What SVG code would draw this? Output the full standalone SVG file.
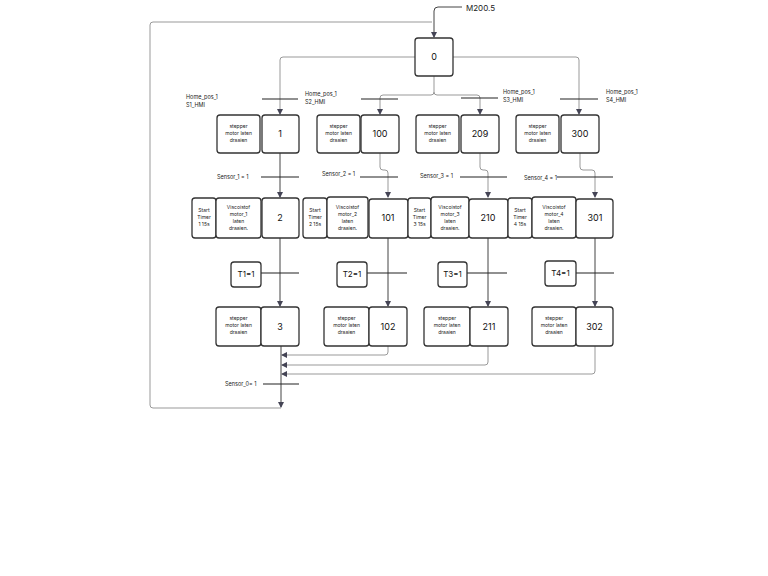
<svg xmlns="http://www.w3.org/2000/svg" width="768" height="576" viewBox="0 0 768 576">
<style>
.b{fill:#fff;stroke:#333;stroke-width:1.3}
.c{fill:none;stroke:#999;stroke-width:1}
.k{fill:none;stroke:#444;stroke-width:1}
.bar{stroke:#222;stroke-width:1.2}
.n{font-family:Inter,"Liberation Sans",sans-serif;font-size:9px;fill:#111;text-anchor:middle}
.s{font-family:Inter,"Liberation Sans",sans-serif;font-size:5px;fill:#222;text-anchor:middle}
.l{font-family:Inter,"Liberation Sans",sans-serif;font-size:5.5px;fill:#222}
</style>
<defs><marker id="a" markerWidth="6" markerHeight="6" refX="5" refY="3" orient="auto"><path d="M0,0L6,3L0,6z" fill="#445"/></marker></defs>
<rect width="768" height="576" fill="#fff"/>
<g id="connectors">
<path class="k" d="M462,7H438Q434,7 434,11V37" marker-end="url(#a)"/>
<path class="c" d="M432,22H153Q150,22 150,25V405Q150,408 153,408H281"/>
<path class="c" d="M415,57H283Q280,57 280,60V114" marker-end="url(#a)"/>
<path class="c" d="M453,57H576Q579,57 579,60V114" marker-end="url(#a)"/>
<path class="c" d="M434,76V92Q434,95 431,95H383Q380,95 380,98V114" marker-end="url(#a)"/>
<path class="c" d="M434,92Q434,95 437,95H477Q480,95 480,98V114" marker-end="url(#a)"/>
<path class="k" d="M280,153V197" marker-end="url(#a)"/>
<path class="c" d="M380,153V167Q380,170 383,170H385Q388,170 388,173V197" marker-end="url(#a)"/>
<path class="c" d="M480,153V167Q480,170 483,170H485Q488,170 488,173V197" marker-end="url(#a)"/>
<path class="c" d="M580,153V167Q580,170 583,170H592Q595,170 595,173V197" marker-end="url(#a)"/>
<path class="k" d="M280,238V306" marker-end="url(#a)"/>
<path class="k" d="M388,238V306" marker-end="url(#a)"/>
<path class="k" d="M488,238V306" marker-end="url(#a)"/>
<path class="k" d="M595,238V306" marker-end="url(#a)"/>
<path class="c" d="M388,346V352Q388,355 385,355H282" marker-end="url(#a)"/>
<path class="c" d="M488,346V362Q488,365 485,365H282" marker-end="url(#a)"/>
<path class="c" d="M595,346V371Q595,374 592,374H282" marker-end="url(#a)"/>
<path class="k" d="M281,346V407" marker-end="url(#a)"/>
<line class="bar" x1="262" y1="99" x2="298" y2="99"/>
<line class="bar" x1="361" y1="99" x2="398" y2="99"/>
<line class="bar" x1="461" y1="98" x2="498" y2="98"/>
<line class="bar" x1="560" y1="99" x2="598" y2="99"/>
<line class="bar" x1="261" y1="177" x2="299" y2="177"/>
<line class="bar" x1="360" y1="177" x2="398" y2="177"/>
<line class="bar" x1="460" y1="177" x2="507" y2="177"/>
<line class="bar" x1="557" y1="177" x2="613" y2="177"/>
<line class="bar" x1="261" y1="273" x2="299" y2="273"/>
<line class="bar" x1="367" y1="273" x2="407" y2="273"/>
<line class="bar" x1="467" y1="273" x2="507" y2="273"/>
<line class="bar" x1="576" y1="273" x2="614" y2="273"/>
<line class="bar" x1="263" y1="384" x2="299" y2="384"/>
</g>
<text class="l" x="466" y="11" style="font-size:8px">M200.5</text>
<text class="l" x="186" y="99">Home_pos_1</text><text class="l" x="186" y="107">S1_HMI</text>
<text class="l" x="305" y="96">Home_pos_1</text><text class="l" x="305" y="104">S2_HMI</text>
<text class="l" x="503" y="94">Home_pos_1</text><text class="l" x="503" y="102">S3_HMI</text>
<text class="l" x="606" y="94">Home_pos_1</text><text class="l" x="606" y="102">S4_HMI</text>
<text class="l" x="217" y="179">Sensor_1 = 1</text>
<text class="l" x="322" y="176">Sensor_2 = 1</text>
<text class="l" x="420" y="178">Sensor_3 = 1</text>
<text class="l" x="524" y="180">Sensor_4 = 1</text>
<text class="l" x="225" y="386">Sensor_0= 1</text>
<g id="n0"><rect class="b" x="415" y="38" width="38" height="38" rx="3"/><text class="n" x="434" y="60">0</text></g>
<g id="r1">
<g id="s1"><rect class="b" x="217" y="115" width="43" height="38" rx="3"/><text class="s" x="238.5" y="128">stepper</text><text class="s" x="238.5" y="135">motor laten</text><text class="s" x="238.5" y="142">draaien</text><rect class="b" x="262" y="115" width="37" height="38" rx="3"/><text class="n" x="280" y="137">1</text></g>
<g id="s100"><rect class="b" x="317" y="115" width="43" height="38" rx="3"/><text class="s" x="338.5" y="128">stepper</text><text class="s" x="338.5" y="135">motor laten</text><text class="s" x="338.5" y="142">draaien</text><rect class="b" x="361" y="115" width="38" height="38" rx="3"/><text class="n" x="380" y="137">100</text></g>
<g id="s209"><rect class="b" x="416" y="115" width="43" height="38" rx="3"/><text class="s" x="437.5" y="128">stepper</text><text class="s" x="437.5" y="135">motor laten</text><text class="s" x="437.5" y="142">draaien</text><rect class="b" x="461" y="115" width="38" height="38" rx="3"/><text class="n" x="480" y="137">209</text></g>
<g id="s300"><rect class="b" x="516" y="115" width="43" height="38" rx="3"/><text class="s" x="537.5" y="128">stepper</text><text class="s" x="537.5" y="135">motor laten</text><text class="s" x="537.5" y="142">draaien</text><rect class="b" x="561" y="115" width="38" height="38" rx="3"/><text class="n" x="580" y="137">300</text></g>
</g>
<g id="r2">
<g id="s2"><rect class="b" x="192" y="198" width="24" height="40" rx="3"/><text class="s" x="204" y="212">Start</text><text class="s" x="204" y="219">Timer</text><text class="s" x="204" y="226">1 15s</text><rect class="b" x="216" y="198" width="45" height="40" rx="3"/><text class="s" x="238.5" y="209">Viscoistof</text><text class="s" x="238.5" y="216">motor_1</text><text class="s" x="238.5" y="223">laten</text><text class="s" x="238.5" y="230">draaien.</text><rect class="b" x="262" y="198" width="37" height="40" rx="3"/><text class="n" x="280" y="221">2</text></g>
<g id="s101"><rect class="b" x="303" y="198" width="24" height="40" rx="3"/><text class="s" x="315" y="212">Start</text><text class="s" x="315" y="219">Timer</text><text class="s" x="315" y="226">2 15s</text><rect class="b" x="327" y="197" width="41" height="41" rx="3"/><text class="s" x="347.5" y="209">Viscoistof</text><text class="s" x="347.5" y="216">motor_2</text><text class="s" x="347.5" y="223">laten</text><text class="s" x="347.5" y="230">draaien.</text><rect class="b" x="369" y="199" width="39" height="39" rx="3"/><text class="n" x="388" y="221">101</text></g>
<g id="s210"><rect class="b" x="408" y="198" width="23" height="40" rx="3"/><text class="s" x="419.5" y="212">Start</text><text class="s" x="419.5" y="219">Timer</text><text class="s" x="419.5" y="226">3 15s</text><rect class="b" x="431" y="197" width="38" height="41" rx="3"/><text class="s" x="450" y="209">Viscoistof</text><text class="s" x="450" y="216">motor_3</text><text class="s" x="450" y="223">laten</text><text class="s" x="450" y="230">draaien.</text><rect class="b" x="469" y="199" width="39" height="39" rx="3"/><text class="n" x="488" y="221">210</text></g>
<g id="s301"><rect class="b" x="508" y="198" width="24" height="40" rx="3"/><text class="s" x="520" y="212">Start</text><text class="s" x="520" y="219">Timer</text><text class="s" x="520" y="226">4 15s</text><rect class="b" x="532" y="197" width="44" height="41" rx="3"/><text class="s" x="554" y="209">Viscoistof</text><text class="s" x="554" y="216">motor_4</text><text class="s" x="554" y="223">laten</text><text class="s" x="554" y="230">draaien.</text><rect class="b" x="576" y="199" width="37" height="39" rx="3"/><text class="n" x="595" y="221">301</text></g>
</g>
<g id="tr">
<g id="t1"><rect class="b" x="231" y="262" width="30" height="25" rx="3"/><text class="n" x="246" y="277" style="font-size:8px">T1=1</text></g>
<g id="t2"><rect class="b" x="337" y="262" width="30" height="25" rx="3"/><text class="n" x="352" y="277" style="font-size:8px">T2=1</text></g>
<g id="t3"><rect class="b" x="438" y="262" width="29" height="25" rx="3"/><text class="n" x="452.5" y="277" style="font-size:8px">T3=1</text></g>
<g id="t4"><rect class="b" x="545" y="261" width="31" height="25" rx="3"/><text class="n" x="560.5" y="276" style="font-size:8px">T4=1</text></g>
</g>
<g id="r3">
<g id="s3"><rect class="b" x="216" y="307" width="45" height="39" rx="3"/><text class="s" x="238.5" y="320">stepper</text><text class="s" x="238.5" y="327">motor laten</text><text class="s" x="238.5" y="334">draaien</text><rect class="b" x="261" y="307" width="38" height="39" rx="3"/><text class="n" x="280" y="330">3</text></g>
<g id="s102"><rect class="b" x="324" y="307" width="45" height="39" rx="3"/><text class="s" x="346.5" y="320">stepper</text><text class="s" x="346.5" y="327">motor laten</text><text class="s" x="346.5" y="334">draaien</text><rect class="b" x="369" y="307" width="38" height="39" rx="3"/><text class="n" x="388" y="330">102</text></g>
<g id="s211"><rect class="b" x="424" y="307" width="46" height="39" rx="3"/><text class="s" x="447" y="320">stepper</text><text class="s" x="447" y="327">motor laten</text><text class="s" x="447" y="334">draaien</text><rect class="b" x="470" y="307" width="38" height="39" rx="3"/><text class="n" x="489" y="330">211</text></g>
<g id="s302"><rect class="b" x="532" y="307" width="44" height="39" rx="3"/><text class="s" x="554" y="320">stepper</text><text class="s" x="554" y="327">motor laten</text><text class="s" x="554" y="334">draaien</text><rect class="b" x="576" y="307" width="37" height="39" rx="3"/><text class="n" x="594.5" y="330">302</text></g>
</g>
</svg>
